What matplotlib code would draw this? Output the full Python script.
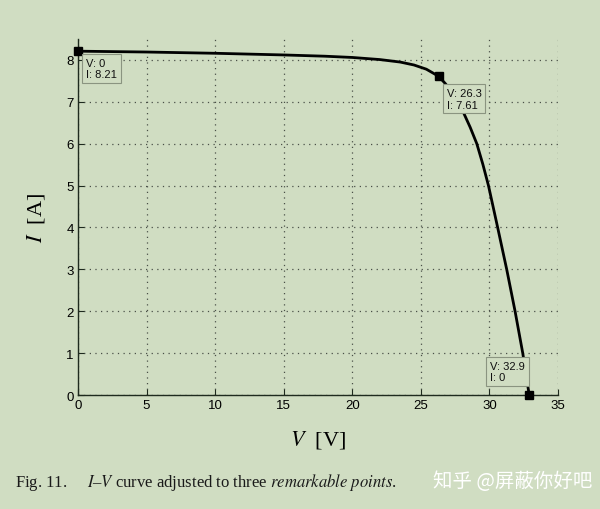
import matplotlib.pyplot as plt

plt.rcParams['mathtext.fontset'] = 'stix'

# ---- data ----
volts = [0, 5, 10, 15, 18, 20, 22, 23.5, 24.5, 25.4, 26.3, 26.8, 27.3, 27.7,
         28.1, 28.6, 29.08, 29.52, 29.93, 30.6, 31.26, 31.87, 32.43, 32.9]
amps = [8.21, 8.19, 8.16, 8.12, 8.09, 8.06, 8.01, 7.95, 7.88, 7.78, 7.61, 7.43,
        7.22, 7.00, 6.75, 6.39, 6.0, 5.51, 5.0, 4.0, 3.0, 2.0, 1.0, 0]
pts_v = [0, 26.3, 32.9]
pts_i = [8.21, 7.61, 0]
pts_lbl = ["V: 0\nI: 8.21", "V: 26.3\nI: 7.61", "V: 32.9\nI: 0"]
lbl_off = [(8, -7), (8, -12), (-39, 34)]  # px offsets of data tips

bg = '#D0DDC2'
fig = plt.figure(figsize=(6, 5.1), dpi=100, facecolor=bg)
ax = fig.add_axes([0.13, 0.2235, 0.80, 0.698])
ax.set_facecolor(bg)

ax.plot(volts, amps, color='black', lw=2.0, solid_capstyle='round', zorder=3)
ax.plot(pts_v, pts_i, 's', color='black', ms=6, clip_on=False, zorder=4)

for v, i, s, (dx, dy) in zip(pts_v, pts_i, pts_lbl, lbl_off):
    ax.annotate(s, (v, i), xytext=(dx, dy), textcoords='offset pixels',
                ha='left', va='top', fontsize=8, family='Liberation Sans',
                linespacing=1.15, zorder=5, color='#111111',
                bbox=dict(boxstyle='square,pad=0.35', fc=bg, ec='#8a9480', lw=0.8))

ax.set_xlim(0, 35)
ax.set_ylim(0, 8.5)
ax.set_xticks(range(0, 36, 5))
ax.set_yticks(range(0, 9))
for sp in ['top', 'right']:
    ax.spines[sp].set_visible(False)
for sp in ['left', 'bottom']:
    ax.spines[sp].set_color('#1e2a1e')
    ax.spines[sp].set_linewidth(1.0)
ax.tick_params(direction='in', length=4, width=0.8, color='#1e2a1e',
               labelsize=9.5, pad=3)
for lab in ax.get_xticklabels() + ax.get_yticklabels():
    lab.set_family('Liberation Sans')
ax.grid(True, linestyle=(0, (1, 3.5)), color='#4a5048', lw=0.9)

ax.set_xlabel(r'$V$  [V]', fontsize=16, family='Liberation Serif', labelpad=12)
ax.set_ylabel(r'$I$  [A]', fontsize=16, family='Liberation Serif', labelpad=14)

fig.text(0.025, 0.045,
         r'Fig. 11.     $I$–$V$ curve adjusted to three $\mathit{remarkable\ points}$.',
         fontsize=12, family='Liberation Serif', color='#1a1a1a')
fig.text(0.722, 0.045, '知乎 @屏蔽你好吧', fontsize=14, color='white',
         family=['Noto Sans CJK SC', 'DejaVu Sans'])

fig.savefig('out.png', dpi=100, facecolor=bg)
